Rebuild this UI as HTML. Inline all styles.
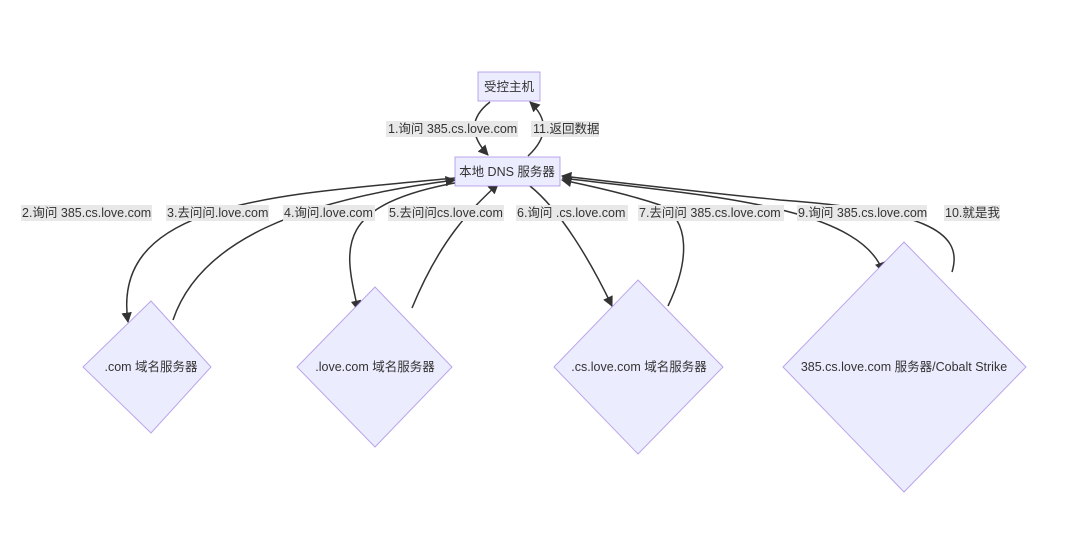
<!DOCTYPE html>
<html><head><meta charset="utf-8"><style>
html,body{margin:0;padding:0;background:#fff;width:1080px;height:556px;overflow:hidden}
text{font-family:"Liberation Sans","Noto Sans CJK SC",sans-serif;font-size:12.5px;fill:#333}
.lb{fill:#e8e8e8}
</style></head><body>
<svg width="1080" height="556" viewBox="0 0 1080 556" xmlns="http://www.w3.org/2000/svg">
<defs><marker id="a" viewBox="0 0 10 10" refX="9" refY="5" markerWidth="7" markerHeight="7" orient="auto"><path d="M0,0L10,5L0,10z" fill="#333"/></marker></defs>
<g fill="none" stroke="#333" stroke-width="1.5">
<path d="M490,102 Q460,125 488,155" marker-end="url(#a)"/>
<path d="M528,156 Q558,128 530,102" marker-end="url(#a)"/>
<path d="M455,178 C280,195 110,200 128,322" marker-end="url(#a)"/>
<path d="M173,320 C200,240 300,200 455,180" marker-end="url(#a)"/>
<path d="M460,182 C330,205 345,250 358,310" marker-end="url(#a)"/>
<path d="M412,308 C440,240 470,210 498,184" marker-end="url(#a)"/>
<path d="M530,186 C560,210 590,260 612,306" marker-end="url(#a)"/>
<path d="M668,306 C690,260 690,220 660,205 C630,195 600,188 562,180" marker-end="url(#a)"/>
<path d="M562,178 C700,195 860,205 883,272" marker-end="url(#a)"/>
<path d="M952,272 C965,230 920,210 780,200 C700,192 640,185 562,176" marker-end="url(#a)"/>
</g>
<g fill="#ececff" stroke="#9370db" stroke-width="1" stroke-opacity="0.6">
<rect x="478" y="72" width="62" height="29"/>
<rect x="455" y="157" width="105" height="29"/>
<polygon points="151,301 211,367 151,433 83,367"/>
<polygon points="375,287 452,367 375,447 297,367"/>
<polygon points="638,280 723,367 638,454 554,367"/>
<polygon points="904,242 1026,367 904,492 783,367"/>
</g>
<text x="509" y="91" text-anchor="middle">受控主机</text>
<text x="507" y="176" text-anchor="middle">本地 DNS 服务器</text>
<text x="151" y="371" text-anchor="middle">.com 域名服务器</text>
<text x="375" y="371" text-anchor="middle">.love.com 域名服务器</text>
<text x="639" y="371" text-anchor="middle">.cs.love.com 域名服务器</text>
<text x="904" y="371" text-anchor="middle">385.cs.love.com 服务器/Cobalt Strike</text>
<g>
<rect class="lb" x="386" y="121" width="132" height="16"/><text x="388" y="133">1.询问 385.cs.love.com</text>
<rect class="lb" x="531" y="121" width="68" height="16"/><text x="533" y="133">11.返回数据</text>
<rect class="lb" x="21" y="205" width="131" height="16"/><text x="22" y="217">2.询问 385.cs.love.com</text>
<rect class="lb" x="166" y="205" width="103" height="16"/><text x="167" y="217">3.去问问.love.com</text>
<rect class="lb" x="283" y="205" width="92" height="16"/><text x="284" y="217">4.询问.love.com</text>
<rect class="lb" x="388" y="205" width="116" height="16"/><text x="389" y="217">5.去问问cs.love.com</text>
<rect class="lb" x="516" y="205" width="112" height="16"/><text x="517" y="217">6.询问 .cs.love.com</text>
<rect class="lb" x="638" y="205" width="146" height="16"/><text x="639" y="217">7.去问问 385.cs.love.com</text>
<rect class="lb" x="797" y="205" width="130" height="16"/><text x="798" y="217">9.询问 385.cs.love.com</text>
<rect class="lb" x="944" y="205" width="56" height="16"/><text x="945" y="217">10.就是我</text>
</g>
</svg>
</body></html>
